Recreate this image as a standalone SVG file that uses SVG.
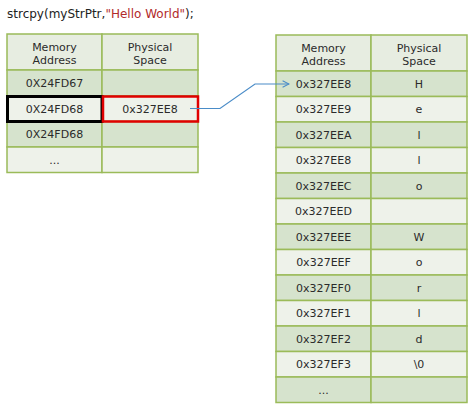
<svg xmlns="http://www.w3.org/2000/svg" width="474" height="410" viewBox="0 0 474 410">
<defs>
<style>
.t{font-family:"DejaVu Sans",Verdana,sans-serif;font-size:11px;fill:#2b2b2b;text-anchor:middle}
.h{fill:#e7ede1;stroke:#9bbb59;stroke-width:1.5}
.d{fill:#d6e3cd;stroke:#9bbb59;stroke-width:1.5}
.l{fill:#eef2ea;stroke:#9bbb59;stroke-width:1.5}
</style>
<marker id="arr" viewBox="0 0 10 10" refX="9" refY="5" markerWidth="8" markerHeight="8" orient="auto" markerUnits="userSpaceOnUse">
<path d="M1,1 L9,5 L1,9" fill="none" stroke="#4a8cc8" stroke-width="1.3"/>
</marker>
</defs>
<rect width="474" height="410" fill="#fff"/>
<text x="7" y="18" style="font-family:'DejaVu Sans',Verdana,sans-serif;font-size:12px;fill:#222">strcpy(myStrPtr,<tspan fill="#b22a2a">"Hello World"</tspan>);</text>

<g id="left-table">
<g id="l-header">
<rect class="h" x="7" y="34" width="95" height="36"/><rect class="h" x="102" y="34" width="96" height="36"/>
<text class="t" x="54.5" y="50.5">Memory</text><text class="t" x="54.5" y="64">Address</text>
<text class="t" x="150" y="50.5">Physical</text><text class="t" x="150" y="64">Space</text>
</g>
<g id="l-row1">
<rect class="d" x="7" y="70" width="95" height="26"/><rect class="d" x="102" y="70" width="96" height="26"/>
<text class="t" x="54.5" y="87">0X24FD67</text>
</g>
<g id="l-row2">
<rect class="l" x="7" y="96" width="95" height="25.5"/><rect class="l" x="102" y="96" width="96" height="25.5"/>
<text class="t" x="54.5" y="112.5">0X24FD68</text>
<text class="t" x="150" y="112.5">0x327EE8</text>
</g>
<g id="l-row3">
<rect class="d" x="7" y="121.5" width="95" height="25.5"/><rect class="d" x="102" y="121.5" width="96" height="25.5"/>
<text class="t" x="54.5" y="138">0X24FD68</text>
</g>
<g id="l-row4">
<rect class="l" x="7" y="147" width="95" height="25.5"/><rect class="l" x="102" y="147" width="96" height="25.5"/>
<text class="t" x="54.5" y="163.5">...</text>
</g>
<rect id="black-highlight" x="7.5" y="96.5" width="94.5" height="25" fill="none" stroke="#000" stroke-width="3"/>
<rect id="red-highlight" x="103" y="96.5" width="95" height="25" fill="none" stroke="#e00000" stroke-width="2.5"/>
</g>

<g id="right-table">
<g id="r-header">
<rect class="h" x="276" y="35" width="95" height="36"/><rect class="h" x="371" y="35" width="96" height="36"/>
<text class="t" x="323.5" y="51.5">Memory</text><text class="t" x="323.5" y="65">Address</text>
<text class="t" x="419" y="51.5">Physical</text><text class="t" x="419" y="65">Space</text>
</g>
<g id="r-row1"><rect class="d" x="276" y="71" width="95" height="25.5"/><rect class="d" x="371" y="71" width="96" height="25.5"/><text class="t" x="323.5" y="87.5">0x327EE8</text><text class="t" x="419" y="87.5">H</text></g>
<g id="r-row2"><rect class="l" x="276" y="96.5" width="95" height="25.5"/><rect class="l" x="371" y="96.5" width="96" height="25.5"/><text class="t" x="323.5" y="113">0x327EE9</text><text class="t" x="419" y="113">e</text></g>
<g id="r-row3"><rect class="d" x="276" y="122" width="95" height="25.5"/><rect class="d" x="371" y="122" width="96" height="25.5"/><text class="t" x="323.5" y="138.5">0x327EEA</text><text class="t" x="419" y="138.5">l</text></g>
<g id="r-row4"><rect class="l" x="276" y="147.5" width="95" height="25.5"/><rect class="l" x="371" y="147.5" width="96" height="25.5"/><text class="t" x="323.5" y="164">0x327EE8</text><text class="t" x="419" y="164">l</text></g>
<g id="r-row5"><rect class="d" x="276" y="173" width="95" height="25.5"/><rect class="d" x="371" y="173" width="96" height="25.5"/><text class="t" x="323.5" y="189.5">0x327EEC</text><text class="t" x="419" y="189.5">o</text></g>
<g id="r-row6"><rect class="l" x="276" y="198.5" width="95" height="25.5"/><rect class="l" x="371" y="198.5" width="96" height="25.5"/><text class="t" x="323.5" y="215">0x327EED</text></g>
<g id="r-row7"><rect class="d" x="276" y="224" width="95" height="25.5"/><rect class="d" x="371" y="224" width="96" height="25.5"/><text class="t" x="323.5" y="240.5">0x327EEE</text><text class="t" x="419" y="240.5">W</text></g>
<g id="r-row8"><rect class="l" x="276" y="249.5" width="95" height="25.5"/><rect class="l" x="371" y="249.5" width="96" height="25.5"/><text class="t" x="323.5" y="266">0x327EEF</text><text class="t" x="419" y="266">o</text></g>
<g id="r-row9"><rect class="d" x="276" y="275" width="95" height="25.5"/><rect class="d" x="371" y="275" width="96" height="25.5"/><text class="t" x="323.5" y="291.5">0x327EF0</text><text class="t" x="419" y="291.5">r</text></g>
<g id="r-row10"><rect class="l" x="276" y="300.5" width="95" height="25.5"/><rect class="l" x="371" y="300.5" width="96" height="25.5"/><text class="t" x="323.5" y="317">0x327EF1</text><text class="t" x="419" y="317">l</text></g>
<g id="r-row11"><rect class="d" x="276" y="326" width="95" height="25.5"/><rect class="d" x="371" y="326" width="96" height="25.5"/><text class="t" x="323.5" y="342.5">0x327EF2</text><text class="t" x="419" y="342.5">d</text></g>
<g id="r-row12"><rect class="l" x="276" y="351.5" width="95" height="25.5"/><rect class="l" x="371" y="351.5" width="96" height="25.5"/><text class="t" x="323.5" y="368">0x327EF3</text><text class="t" x="419" y="368">\0</text></g>
<g id="r-row13"><rect class="d" x="276" y="377" width="95" height="25.5"/><rect class="d" x="371" y="377" width="96" height="25.5"/><text class="t" x="323.5" y="393.5">...</text></g>
</g>

<g id="connectors">
<polyline points="190,108.5 220,108.5 255,84 289,84" fill="none" stroke="#4a8cc8" stroke-width="1.2" marker-end="url(#arr)"/>
</g>
</svg>
